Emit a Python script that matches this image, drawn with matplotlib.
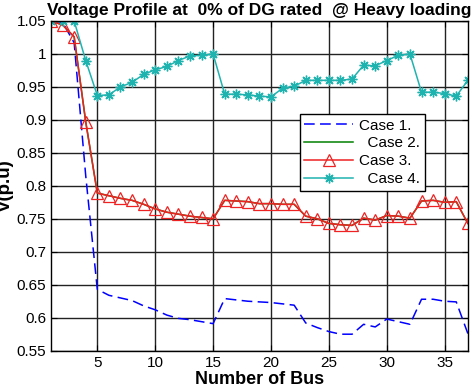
import matplotlib
matplotlib.use("Agg")
import matplotlib.pyplot as plt
import numpy as np

bus = np.arange(1, 38)

case1 = [1.05, 1.048, 1.017, 0.815, 0.643, 0.634, 0.630, 0.626, 0.618, 0.612,
         0.604, 0.599, 0.597, 0.594, 0.591, 0.629, 0.627, 0.625, 0.624, 0.623,
         0.621, 0.619, 0.592, 0.585, 0.579, 0.575, 0.575, 0.590, 0.586, 0.598,
         0.594, 0.590, 0.628, 0.628, 0.625, 0.624, 0.576]

case3 = [1.05, 1.044, 1.026, 0.897, 0.789, 0.785, 0.781, 0.778, 0.772, 0.765,
         0.760, 0.757, 0.754, 0.752, 0.750, 0.778, 0.777, 0.776, 0.773, 0.773,
         0.772, 0.772, 0.754, 0.750, 0.743, 0.741, 0.740, 0.751, 0.748, 0.755,
         0.754, 0.751, 0.777, 0.778, 0.775, 0.776, 0.743]

# case 2 is identical to case 3 (hidden under the red curve)
case2 = list(case3)

case4 = [1.05, 1.05, 1.05, 0.990, 0.937, 0.938, 0.950, 0.957, 0.969, 0.976,
         0.981, 0.990, 0.997, 0.998, 1.0, 0.939, 0.939, 0.938, 0.936, 0.935,
         0.948, 0.951, 0.960, 0.960, 0.960, 0.960, 0.962, 0.983, 0.982, 0.990,
         0.998, 1.0, 0.942, 0.942, 0.940, 0.936, 0.960]

yticks = [0.55, 0.6, 0.65, 0.7, 0.75, 0.8, 0.85, 0.9, 0.95, 1.0, 1.05]
ytick_labels = ["0.55", "0.6", "0.65", "0.7", "0.75", "0.8", "0.85", "0.9",
                "0.95", "1", "1.05"]
xticks = [5, 10, 15, 20, 25, 30, 35]

plt.rcParams["font.family"] = ["Liberation Sans", "DejaVu Sans"]

fig = plt.figure(figsize=(4.74, 3.86), dpi=100)
ax = fig.add_axes([0.1076, 0.0915, 0.8794, 0.8541])

ax.plot(bus, case1, color="#0000ff", linestyle=(0, (7, 3.5)), linewidth=1.1,
        label="Case 1.")
ax.plot(bus, case2, color="#008000", linewidth=1.1, label="  Case 2.")
ax.plot(bus, case3, color="#ee2222", linewidth=1.1, marker="^", markersize=8,
        markerfacecolor="none", markeredgewidth=0.9, label="Case 3.")
ax.plot(bus, case4, color="#1fb3b0", linewidth=1.1, marker=(8, 2, 0),
        markersize=7, markeredgewidth=1.0, label="  Case 4.")

ax.set_xlim(1, 37)
ax.set_ylim(0.55, 1.05)
ax.set_xticks(xticks)
ax.set_yticks(yticks)
ax.set_yticklabels(ytick_labels)
ax.tick_params(direction="in", labelsize=11, length=4, top=True, right=True)
ax.grid(True, color="#222222", linewidth=1.0, linestyle="-")
for s in ax.spines.values():
    s.set_linewidth(1.0)

ax.set_title("Voltage Profile at  0% of DG rated  @ Heavy loading",
             fontsize=12.5, fontweight="bold", pad=4)
ax.set_xlabel("Number of Bus", fontsize=13, fontweight="bold", labelpad=1)
ax.set_ylabel("V(p.u)", fontsize=13.5, fontweight="bold", labelpad=2)

leg = ax.legend(loc="upper left", bbox_to_anchor=(0.597, 0.718), fontsize=11,
                frameon=True, fancybox=False, edgecolor="black",
                handlelength=3.2, borderpad=0.3, labelspacing=0.25,
                handletextpad=0.4, borderaxespad=0)
leg.get_frame().set_linewidth(1.0)
leg.get_frame().set_alpha(1.0)

fig.savefig("out.png", dpi=100)
